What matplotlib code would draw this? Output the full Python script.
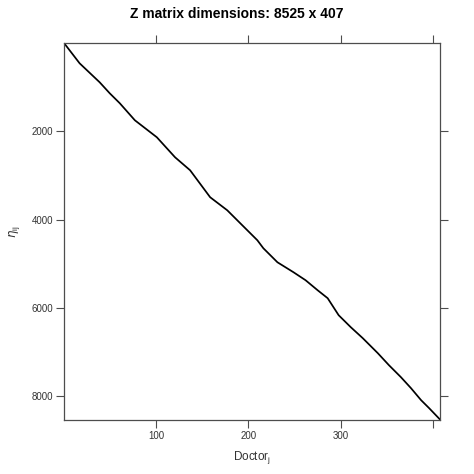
import matplotlib
matplotlib.use("Agg")
from matplotlib import pyplot as plt

# breakpoints of the staircase: doctor index, cumulative row
doctor = [0.5, 17.4, 39.1, 50, 60.9, 77.2, 101, 120.7, 137, 158.7, 177.2,
          191.3, 209.8, 216.3, 231.5, 248.9, 262, 275, 285.9, 297.8, 310.9,
          323.9, 340.2, 352.2, 365.2, 376.1, 387, 395.7, 407.5]
row = [0.5, 460, 890, 1139, 1365, 1750, 2135, 2588, 2882, 3493, 3788,
       4082, 4467, 4648, 4965, 5191, 5372, 5598, 5779, 6164, 6435,
       6684, 7024, 7295, 7567, 7816, 8087, 8268, 8525.5]

n_rows, n_cols = 8525, 407
xticks = [100, 200, 300, 400]
xlabels = ["100", "200", "300", ""]
yticks = [2000, 4000, 6000, 8000]

plt.rcParams["font.family"] = ["Liberation Sans", "DejaVu Sans"]
plt.rcParams["mathtext.fontset"] = "custom"
plt.rcParams["mathtext.rm"] = "Liberation Sans"
fig = plt.figure(figsize=(4.74, 4.74), dpi=100)
ax = fig.add_axes([64 / 474, 1 - 419.5 / 474, 376 / 474, 376.5 / 474])

ax.plot(doctor, row, color="black", lw=1.25)

ax.set_xlim(0.5, n_cols + 0.5)
ax.set_ylim(n_rows + 0.5, 0.5)
ax.set_xticks(xticks)
ax.set_xticklabels(xlabels)
ax.set_yticks(yticks)
ax.tick_params(which="both", direction="out", length=6, width=0.8, color="#4d4d4d",
               labelsize=7, labelcolor="#333333", pad=2,
               top=True, right=True, labeltop=False, labelright=False)
for s in ax.spines.values():
    s.set_color("#4d4d4d")
    s.set_linewidth(0.9)

fig.suptitle("Z matrix dimensions: 8525 x 407", fontsize=10, fontweight="bold", y=0.985)
ax.set_xlabel(r"Doctor$_{\mathrm{j}}$", fontsize=8.5, color="#333333", labelpad=6)
ax.set_ylabel(r"$\eta_{\mathrm{ij}}$", fontsize=8.5, color="#333333", labelpad=7)

fig.savefig("out.png", dpi=100)
